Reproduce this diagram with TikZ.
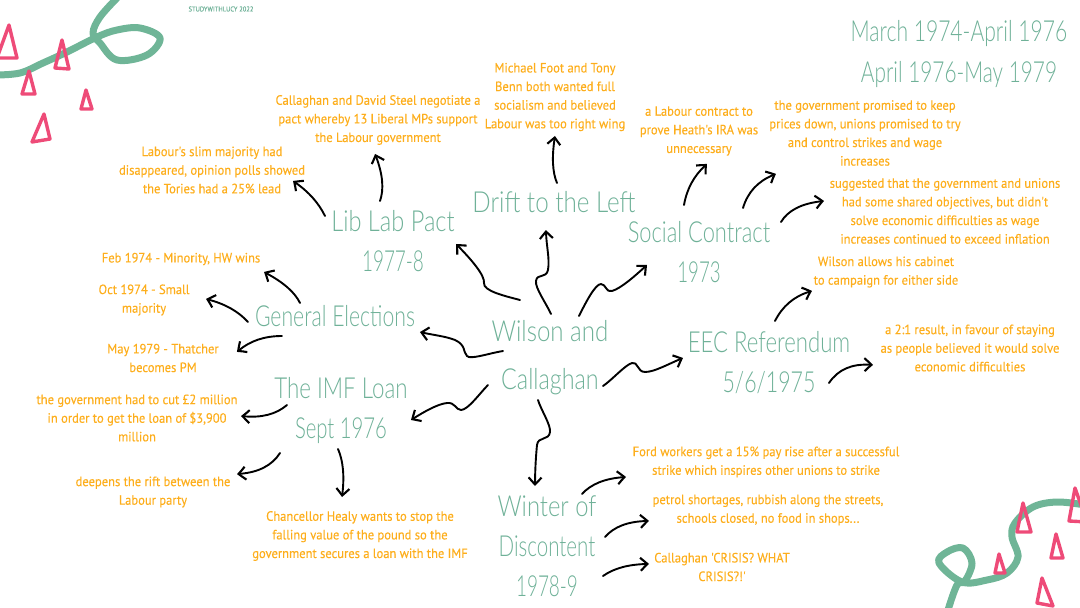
\documentclass[tikz,border=0pt]{standalone}
\usepackage{fontspec}
\usepackage{graphicx}
\usetikzlibrary{arrows.meta,bending}
\setmainfont{PT Sans}
\newfontfamily\headfont{Lato Light}
\newfontfamily\notefont[FakeStretch=0.93,FakeBold=0.25]{PT Sans}
\newcommand{\hs}[2]{\scalebox{#1}[1]{#2}}
\definecolor{headgreen}{HTML}{6FB198}
\definecolor{noteamber}{HTML}{FDAE1C}
\definecolor{vine}{HTML}{6FB597}
\definecolor{drop}{HTML}{EE4B78}
\tikzset{
  x=1pt,y=-1pt,
  head/.style={text=headgreen,font=\headfont\fontsize{29}{40}\selectfont,align=center,inner sep=0pt},
  title/.style={text=headgreen,font=\headfont\fontsize{29}{41}\selectfont,align=center,inner sep=0pt},
  note/.style={text=noteamber,font=\notefont\fontsize{13.5}{18.6}\selectfont,align=center,inner sep=0pt},
  sigmark/.style={text=headgreen,font=\notefont\fontsize{7}{8}\selectfont,inner sep=0pt},
  arw/.style={draw=black,line width=1.9pt,line cap=round,line join=round,-{Straight Barb[length=7pt,width=13pt,line width=2.1pt,bend]}},
  vineline/.style={draw=vine,line width=7pt,line cap=round,line join=round},
  dropline/.style={draw=drop,line width=3.4pt,line join=round,line cap=round},
}
\begin{document}
\begin{tikzpicture}
\useasboundingbox (0,0) rectangle (1080,608);
% decorations
\draw[vineline] plot[smooth,tension=.6] coordinates {(-5,75) (20,73) (43,63) (67,52) (97,37) (117,30) (140,28) (160,38) (147,55) (117,60) (100,43) (93,33) (100,17) (118,-3)};
\draw[vineline] plot[smooth,tension=.6] coordinates {(948,610) (957,585) (965,581) (972,563) (963,548) (947,552) (939,563) (962,582) (987,580) (1007,573) (1018,557) (1012,537) (1015,523) (1033,507) (1057,502) (1085,505)};
\foreach \ax/\ay/\bx/\by/\cx/\cy in {9/25/-3/58/17/58,62/40/55/68/69/69,29/71/22/94/35/94,86/90/81/109/92/109,44/114/32/142/50/139,
 1023/503/1017/532/1031/532,999/554/995/573/1005/573,1075/488/1069/521/1087/522,1056/534/1051/558/1063/558,1042/578/1037/603/1053/606}
  \draw[dropline] (\ax,\ay) -- (\bx,\by) -- (\cx,\cy) -- cycle;
% titles
\node[title] (t1) at (959,34) {\hs{.727}{March 1974-April 1976}};
\node[title] (t2) at (959,75) {\hs{.718}{April 1976-May 1979}};
\node[sigmark] (sig) at (221,9) {STUDYWITHLUCY 2022};
% headings
\node[head] (wc) at (550,358) {\hs{.83}{Wilson and}\\[8pt]\hs{.805}{Callaghan}};
\node[head] (drift) at (554,202) {\hs{.834}{Drift to the Left}};
\node[head] (lib) at (393,241) {\hs{.814}{Lib Lab Pact}\\\hs{.653}{1977-8}};
\node[head] (gen) at (335,316) {\hs{.731}{General Elections}};
\node[head] (imf) at (341,410) {\hs{.77}{The IMF Loan}\\\hs{.70}{Sept 1976}};
\node[head] (soc) at (699,252) {\hs{.754}{Social Contract}\\\hs{.644}{1973}};
\node[head] (eec) at (769,363) {\hs{.764}{EEC Referendum}\\\hs{.736}{5/6/1975}};
\node[head] (win) at (547,546) {\hs{.82}{Winter of}\\\hs{.708}{Discontent}\\\hs{.653}{1978-9}};
% notes
\node[note] (n1) at (555,97) {Michael Foot and Tony\\Benn both wanted full\\socialism and believed\\Labour was too right wing};
\node[note] (n2) at (378,120) {Callaghan and David Steel negotiate a\\pact whereby 13 Liberal MPs support\\the Labour government};
\node[note] (n3) at (212,170) {Labour's slim majority had\\disappeared, opinion polls showed\\the Tories had a 25\% lead};
\node[note] (n4) at (181,259) {Feb 1974 - Minority, HW wins};
\node[note] (n5) at (144,300) {Oct 1974 - Small\\majority};
\node[note] (n6) at (163,358) {May 1979 - Thatcher\\becomes PM};
\node[note] (n7) at (137,418) {the government had to cut £2 million\\in order to get the loan of \$3,900\\million};
\node[note] (n8) at (153,492) {deepens the rift between the\\Labour party};
\node[note] (n9) at (360,536) {Chancellor Healy wants to stop the\\falling value of the pound so the\\government secures a loan with the IMF};
\node[note] (n10) at (766,462) {Ford workers get a 15\% pay rise after a successful\\strike which inspires other unions to strike};
\node[note] (n11) at (768,510) {petrol shortages, rubbish along the streets,\\schools closed, no food in shops...};
\node[note] (n12) at (722,567) {Callaghan 'CRISIS? WHAT\\CRISIS?!'};
\node[note] (n13) at (699,131) {a Labour contract to\\prove Heath's IRA was\\unnecessary};
\node[note] (n14) at (865,133) {the government promised to keep\\prices down, unions promised to try\\and control strikes and wage\\increases};
\node[note] (n15) at (945,211) {suggested that the government and unions\\had some shared objectives, but didn't\\solve economic difficulties as wage\\increases continued to exceed inflation};
\node[note] (n16) at (886,272) {Wilson allows his cabinet\\to campaign for either side};
\node[note] (n17) at (970,348) {a 2:1 result, in favour of staying\\as people believed it would solve\\economic difficulties};
% connector ends
\coordinate (wcLib) at (520,300);   \coordinate (libIn) at (456,244);
\coordinate (wcDrift) at (551,314); \coordinate (driftIn) at (546,230);
\coordinate (wcSoc) at (579,316);   \coordinate (socIn) at (647,265);
\coordinate (wcGen) at (503,351);   \coordinate (genIn) at (420,332);
\coordinate (wcEec) at (603,386);   \coordinate (eecIn) at (683,358);
\coordinate (wcImf) at (488,385);   \coordinate (imfIn) at (411,420);
\coordinate (wcWin) at (538,400);   \coordinate (winIn) at (535,486);
\coordinate (driftOut) at (557,183);\coordinate (n1In) at (555,136);
\coordinate (libOutA) at (325,216); \coordinate (n3In) at (293,181);
\coordinate (libOutB) at (380,201); \coordinate (n2In) at (375,154);
\coordinate (genOutA) at (300,303); \coordinate (n4In) at (264,272);
\coordinate (genOutB) at (248,322); \coordinate (n5In) at (206,299);
\coordinate (genOutC) at (282,336); \coordinate (n6In) at (237,352);
\coordinate (imfOutA) at (287,405); \coordinate (n7In) at (241,416);
\coordinate (imfOutB) at (280,453); \coordinate (n8In) at (237,474);
\coordinate (imfOutC) at (338,449); \coordinate (n9In) at (342,497);
\coordinate (winOutA) at (582,494); \coordinate (n10In) at (626,477);
\coordinate (winOutB) at (605,537); \coordinate (n11In) at (649,521);
\coordinate (winOutC) at (603,576); \coordinate (n12In) at (649,564);
\coordinate (socOutA) at (684,205); \coordinate (n13In) at (707,164);
\coordinate (socOutB) at (743,208); \coordinate (n14In) at (776,174);
\coordinate (socOutC) at (781,222); \coordinate (n15In) at (824,201);
\coordinate (eecOutA) at (775,321); \coordinate (n16In) at (812,291);
\coordinate (eecOutB) at (829,383); \coordinate (n17In) at (873,365);
% centre connectors
\draw[arw] (wcLib) .. controls (505,296) and (483,291) .. (484,283) .. controls (485,275) and (470,258) .. (libIn);
\draw[arw] (wcDrift) .. controls (546,303) and (535,288) .. (536,281) .. controls (537,273) and (546,279) .. (548,270) .. controls (550,258) and (546,245) .. (driftIn);
\draw[arw] (wcSoc) .. controls (585,304) and (595,284) .. (601,284) .. controls (606,284) and (606,293) .. (612,291) .. controls (622,288) and (637,274) .. (socIn);
\draw[arw] (wcGen) .. controls (490,353) and (470,360) .. (467,356) .. controls (463,352) and (466,345) .. (455,340) .. controls (445,336) and (432,335) .. (genIn);
\draw[arw] (wcEec) .. controls (612,380) and (625,365) .. (632,363) .. controls (638,361) and (637,372) .. (645,372) .. controls (655,372) and (670,363) .. (eecIn);
\draw[arw] (wcImf) .. controls (480,393) and (468,410) .. (461,410) .. controls (456,410) and (455,402) .. (447,403) .. controls (437,404) and (422,413) .. (imfIn);
\draw[arw] (wcWin) .. controls (541,410) and (551,425) .. (550,432) .. controls (549,441) and (538,436) .. (537,445) .. controls (536,455) and (535,470) .. (winIn);
% outward connectors
\draw[arw] (driftOut) .. controls (552.3,172) and (551.7,156) .. (n1In);
\draw[arw] (libOutA) .. controls (318.3,202.3) and (307.7,190.7) .. (n3In);
\draw[arw] (libOutB) .. controls (384.3,188.7) and (382.7,173) .. (n2In);
\draw[arw] (genOutA) .. controls (294.7,292) and (282.7,281.7) .. (n4In);
\draw[arw] (genOutB) .. controls (238,311) and (224,303.3) .. (n5In);
\draw[arw] (genOutC) .. controls (263.7,336) and (248.7,341.3) .. (n6In);
\draw[arw] (imfOutA) .. controls (275.7,414.7) and (260.3,418.3) .. (n7In);
\draw[arw] (imfOutB) .. controls (271.7,466) and (257.3,473) .. (n8In);
\draw[arw] (imfOutC) .. controls (343.3,461) and (344.7,477) .. (n9In);
\draw[arw] (winOutA) .. controls (591.3,483.7) and (606,478) .. (n10In);
\draw[arw] (winOutB) .. controls (614.3,526.3) and (629,521) .. (n11In);
\draw[arw] (winOutC) .. controls (614.3,568) and (629.7,564) .. (n12In);
\draw[arw] (socOutA) .. controls (687,188) and (694.7,174.5) .. (n13In);
\draw[arw] (socOutB) .. controls (748,191.3) and (759,180) .. (n14In);
\draw[arw] (socOutC) .. controls (788,210.3) and (802,203) .. (n15In);
\draw[arw] (eecOutA) .. controls (782.7,305.7) and (795,295.3) .. (n16In);
\draw[arw] (eecOutB) .. controls (838.3,369) and (853,363) .. (n17In);
\end{tikzpicture}
\end{document}
